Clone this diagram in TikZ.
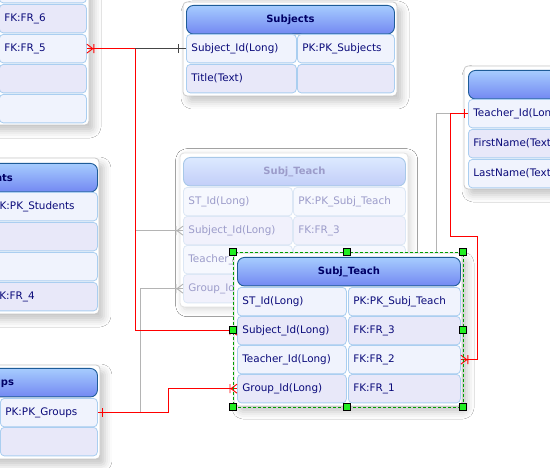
\documentclass[tikz,border=0pt]{standalone}
\usepackage{fontspec}
\setmainfont{DejaVu Sans}
\usetikzlibrary{shadows.blur}
\definecolor{panelb}{HTML}{C8C8C8}
\definecolor{hdrb}{HTML}{1E5C98}
\definecolor{hdrt}{HTML}{A6CCFE}
\definecolor{hdrbot}{HTML}{7388F2}
\definecolor{hdrtext}{HTML}{000066}
\definecolor{cellb}{HTML}{AACEF0}
\definecolor{cellf}{HTML}{F0F3FD}
\definecolor{cellf2}{HTML}{E8E8F9}
\definecolor{celltext}{HTML}{0A0A7A}
\definecolor{ghdrb}{HTML}{A8C8E8}
\definecolor{ghdrt}{HTML}{DCE9FF}
\definecolor{ghdrbot}{HTML}{C2CEF8}
\definecolor{gtext}{HTML}{9C9CCA}
\definecolor{gcellb}{HTML}{DCE7F5}
\definecolor{gcellf}{HTML}{F6F8FE}
\definecolor{gcellf2}{HTML}{F1F1FC}
\definecolor{relred}{HTML}{FF0000}
\definecolor{relgray}{HTML}{B4B4B4}
\definecolor{reldark}{HTML}{454545}
\definecolor{selgreen}{HTML}{00A000}
\definecolor{handle}{HTML}{22EE22}
\newcommand\crowR[2]{\draw[#2] ([yshift=4.5pt]#1) -- ([xshift=-6pt]#1) -- ([yshift=-4.5pt]#1) ([xshift=-7pt,yshift=4.5pt]#1) -- ([xshift=-7pt,yshift=-4.5pt]#1);}
\newcommand\crowL[2]{\draw[#2] ([yshift=4.5pt]#1) -- ([xshift=6pt]#1) -- ([yshift=-4.5pt]#1) ([xshift=7pt,yshift=4.5pt]#1) -- ([xshift=7pt,yshift=-4.5pt]#1);}
\newcommand\barat[3]{\draw[#3] ([xshift=#2,yshift=4.5pt]#1) -- ([xshift=#2,yshift=-4.5pt]#1);}
\begin{document}
\begin{tikzpicture}[x=1pt,y=-1pt,
  panel/.style={draw=panelb, fill=white, line width=0.8pt, rounded corners=4pt,
    blur shadow={shadow xshift=5pt, shadow yshift=-6pt, shadow blur radius=7pt, shadow opacity=22}},
  hdr/.style={draw=hdrb, line width=0.9pt, rounded corners=7pt, top color=hdrt, bottom color=hdrbot,
    minimum height=28.5pt, anchor=north west, inner sep=0pt, text=hdrtext,
    font=\fontsize{10}{12}\selectfont\bfseries},
  cell/.style={draw=cellb, fill=cellf, line width=0.8pt, rounded corners=4pt, minimum height=28.5pt,
    anchor=north west, inner xsep=5pt, inner ysep=0pt, align=left, text=celltext,
    font=\fontsize{10.4}{12}\selectfont},
  cellalt/.style={cell, fill=cellf2},
  ghdr/.style={hdr, draw=ghdrb, top color=ghdrt, bottom color=ghdrbot, text=gtext},
  gcell/.style={cell, draw=gcellb, fill=gcellf, text=gtext},
  gcellalt/.style={gcell, fill=gcellf2},
  rel/.style={draw=relred, line width=0.9pt},
  gl/.style={draw=relgray, line width=0.9pt},
  dgl/.style={draw=reldark, line width=0.9pt},
  sel/.style={draw=selgreen, line width=0.7pt, dash pattern=on 3pt off 2pt},
  hnd/.style={fill=handle, draw=black, line width=0.5pt}]
\useasboundingbox (0,0) rectangle (550,468);
\clip (0,0) rectangle (550,468);
\fill[white] (0,0) rectangle (550,468);

% ---- table A (top left, clipped)
\path[panel] (-30,-30) rectangle (89,125);
\node[cell, text width=100pt, minimum width=110pt] (A0l) at (-112,-26) {};
\node[cell, text width=77pt, minimum width=87pt] (A0r) at (-1,-26) {};
\node[cellalt, text width=100pt, minimum width=110pt] (A1l) at (-112,4) {};
\node[cellalt, text width=77pt, minimum width=87pt] (A1r) at (-1,4) {FK:FR\_6};
\node[cell, text width=100pt, minimum width=110pt] (A2l) at (-112,34) {};
\node[cell, text width=77pt, minimum width=87pt] (A5) at (-1,34) {FK:FR\_5};
\node[cellalt, text width=100pt, minimum width=110pt] (A3l) at (-112,64) {};
\node[cellalt, text width=77pt, minimum width=87pt] (A3r) at (-1,64) {};
\node[cell, text width=100pt, minimum width=110pt] (A4l) at (-112,94) {};
\node[cell, text width=77pt, minimum width=87pt] (A4r) at (-1,94) {};

% ---- Subjects
\path[panel] (183,2) rectangle (397,96);
\node[hdr, minimum width=208pt] (Sh) at (186,5) {Subjects};
\node[cell, text width=100pt, minimum width=110pt] (S1l) at (186,34) {Subject\_Id(Long)};
\node[cell, text width=87pt, minimum width=97pt] (S1r) at (297,34) {PK:PK\_Subjects};
\node[cellalt, text width=100pt, minimum width=110pt] (S2l) at (186,64) {Title(Text)};
\node[cellalt, text width=87pt, minimum width=97pt] (S2r) at (297,64) {};

% ---- Teacher (right, clipped)
\path[panel] (464,66) rectangle (620,189);
\node[hdr, minimum width=220pt] (Th) at (468,70) {};
\node[cell, text width=100pt, minimum width=110pt] (T1l) at (468,99) {Teacher\_Id(Long)};
\node[cellalt, text width=100pt, minimum width=110pt] (T2l) at (468,129) {FirstName(Text)};
\node[cell, text width=100pt, minimum width=110pt] (T3l) at (468,159) {LastName(Text)};

% ---- Students (left, clipped)
\path[panel] (-130,158) rectangle (99,314);
\node[hdr, minimum width=220pt] (Sth) at (-123,163) {Students};
\node[cell, text width=100pt, minimum width=110pt] (St1l) at (-123,192) {};
\node[cell, text width=99pt, minimum width=109pt] (St1r) at (-12,192) {PK:PK\_Students};
\node[cellalt, text width=100pt, minimum width=110pt] (St2l) at (-123,222) {};
\node[cellalt, text width=99pt, minimum width=109pt] (St2r) at (-12,222) {};
\node[cell, text width=100pt, minimum width=110pt] (St3l) at (-123,252) {};
\node[cell, text width=99pt, minimum width=109pt] (St3r) at (-12,252) {};
\node[cellalt, text width=100pt, minimum width=110pt] (St4l) at (-123,282) {};
\node[cellalt, text width=99pt, minimum width=109pt] (St4r) at (-12,282) {FK:FR\_4};

% ---- Groups (bottom left, clipped)
\path[panel] (-120,365) rectangle (100,459);
\node[hdr, minimum width=207pt] (Grh) at (-110,368) {Groups};
\node[cell, text width=99pt, minimum width=109pt] (Gr1l) at (-110,398) {};
\node[cell, text width=87pt, minimum width=97pt] (Gr1r) at (0,398) {PK:PK\_Groups};
\node[cellalt, text width=99pt, minimum width=109pt] (Gr2l) at (-110,427) {};
\node[cellalt, text width=87pt, minimum width=97pt] (Gr2r) at (0,427) {};

% ---- bend coordinates
\coordinate (v1) at (135,0);
\coordinate (v2) at (140,0);
\coordinate (v4) at (450,0);
\coordinate (v6) at (436,0);

% ---- ghost Subj_Teach
\path[panel, draw=panelb!55, blur shadow={shadow opacity=8}] (180,153) rectangle (408,307);
\node[ghdr, minimum width=222pt] (Gh) at (183,157) {Subj\_Teach};
\node[gcell, text width=99pt, minimum width=109pt] (G1l) at (183,187) {ST\_Id(Long)};
\node[gcell, text width=102pt, minimum width=112pt] (G1r) at (293,187) {PK:PK\_Subj\_Teach};
\node[gcellalt, text width=99pt, minimum width=109pt] (G2l) at (183,216) {Subject\_Id(Long)};
\node[gcellalt, text width=102pt, minimum width=112pt] (G2r) at (293,216) {FK:FR\_3};
\node[gcell, text width=99pt, minimum width=109pt] (G3l) at (183,245) {Teacher\_Id(Long)};
\node[gcell, text width=102pt, minimum width=112pt] (G3r) at (293,245) {FK:FR\_2};
\node[gcellalt, text width=99pt, minimum width=109pt] (G4l) at (183,274) {Group\_Id(Long)};
\node[gcellalt, text width=102pt, minimum width=112pt] (G4r) at (293,274) {FK:FR\_1};

\draw[gl] (v1 |- G2l.west) -- (G2l.west);
\crowR{G2l.west}{gl}
\draw[gl] (Gr1r.east -| v2) |- (G4l.west);
\crowR{G4l.west}{gl}
\draw[gl] (T1l.west -| v4) -- (T1l.west -| v6) |- (G3r.east);

% ---- main Subj_Teach
\path[panel] (234,253) rectangle (462,406);
\node[hdr, minimum width=223pt] (Mh) at (237,257) {Subj\_Teach};
\node[cell, text width=99pt, minimum width=109pt] (M1l) at (237,287) {ST\_Id(Long)};
\node[cell, text width=102pt, minimum width=112pt] (M1r) at (348,287) {PK:PK\_Subj\_Teach};
\node[cellalt, text width=99pt, minimum width=109pt] (M2l) at (237,316) {Subject\_Id(Long)};
\node[cellalt, text width=102pt, minimum width=112pt] (M2r) at (348,316) {FK:FR\_3};
\node[cell, text width=99pt, minimum width=109pt] (M3l) at (237,345) {Teacher\_Id(Long)};
\node[cell, text width=102pt, minimum width=112pt] (M3r) at (348,345) {FK:FR\_2};
\node[cellalt, text width=99pt, minimum width=109pt] (M4l) at (237,374) {Group\_Id(Long)};
\node[cellalt, text width=102pt, minimum width=112pt] (M4r) at (348,374) {FK:FR\_1};

% ---- red and dark connectors
\coordinate (v3) at (168,0);
\coordinate (v5) at (477,0);
\coordinate (h4) at (0,236);
\draw[rel] (A5.east) -- (A5.east -| v1) |- (M2l.west);
\draw[dgl] (A5.east -| v1) -- (S1l.west);
\barat{S1l.west}{-8pt}{dgl}
\crowL{A5.east}{rel}
\crowR{M2l.west}{rel}
\draw[rel] (Gr1r.east) -| (v3 |- M4l.west) -- (M4l.west);
\barat{Gr1r.east}{5pt}{rel}
\crowR{M4l.west}{rel}
\draw[rel] (T1l.west) -- (T1l.west -| v4) -- (v4 |- h4) -- (v5 |- h4) -- (v5 |- M3r.east) -- (M3r.east);
\barat{T1l.west}{-4pt}{rel}
\crowL{M3r.east}{rel}

% ---- selection
\draw[sel] (233,252) rectangle (463,407);
\foreach \hx/\hy in {233/252,347/252,463/252,233/330,463/330,233/407,347/407,463/407}
  \draw[hnd] (\hx-3.5,\hy-3.5) rectangle (\hx+3.5,\hy+3.5);
\end{tikzpicture}
\end{document}
